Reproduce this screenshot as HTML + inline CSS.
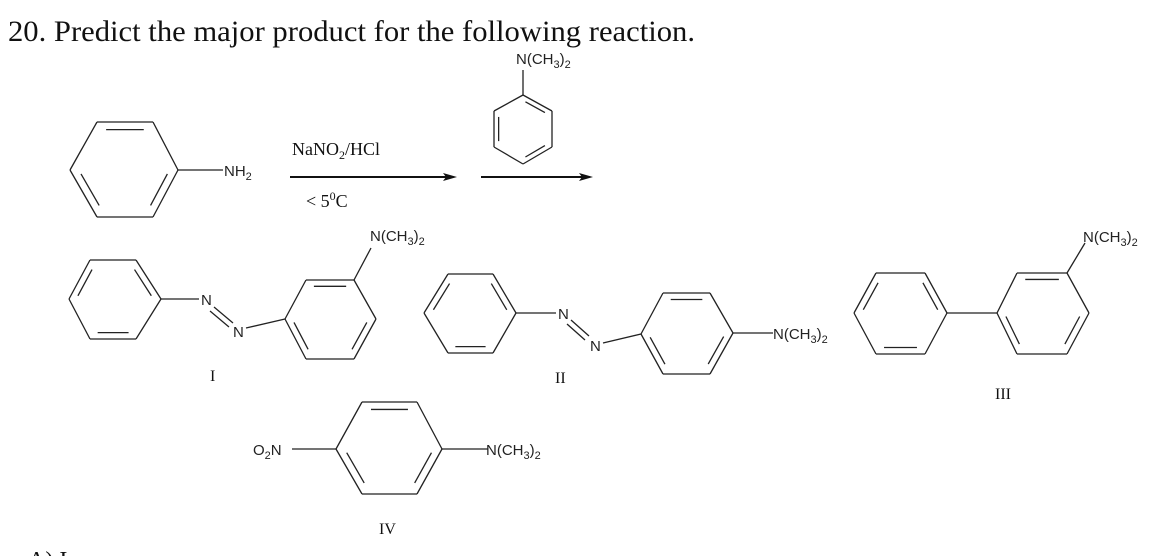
<!DOCTYPE html>
<html><head><meta charset="utf-8">
<style>
html,body{margin:0;padding:0;background:#fff;}
svg{display:block;}
.s{font-family:"Liberation Sans",sans-serif;font-size:15px;fill:#222;}
.r{font-family:"Liberation Serif",serif;fill:#111;}
</style></head><body>
<svg id="g" width="1160" height="556" viewBox="0 0 1160 556" xmlns="http://www.w3.org/2000/svg">
<rect width="1160" height="556" fill="#fff"/>
<text class="r" x="8" y="41" font-size="30" textLength="687" lengthAdjust="spacingAndGlyphs">20.  Predict the major product for the following reaction.</text>

<!-- aniline -->
<line x1="178" y1="170" x2="223" y2="170" stroke="#222" stroke-width="1.3"/>
<text class="s" x="224" y="176">NH<tspan font-size="11" dy="4">2</tspan></text>

<!-- arrows -->
<line x1="290" y1="177" x2="446" y2="177" stroke="#111" stroke-width="2"/>
<polygon points="457,177 443,173 446,177 443,181" fill="#111"/>
<line x1="481" y1="177" x2="582" y2="177" stroke="#111" stroke-width="2"/>
<polygon points="593,177 579,173 582,177 579,181" fill="#111"/>
<text class="r" x="292" y="155" font-size="18">NaNO<tspan font-size="12" dy="4">2</tspan><tspan dy="-4">/HCl</tspan></text>
<text class="r" x="306" y="207" font-size="18">&lt; 5<tspan font-size="12" dy="-7">0</tspan><tspan dy="7">C</tspan></text>

<!-- dimethylaniline reagent -->
<line x1="523" y1="70" x2="523" y2="95" stroke="#222" stroke-width="1.3"/>
<text class="s" x="516" y="64">N(CH<tspan font-size="11" dy="4">3</tspan><tspan dy="-4">)</tspan><tspan font-size="11" dy="4">2</tspan></text>

<!-- I -->
<line x1="161" y1="299" x2="199" y2="299" stroke="#222" stroke-width="1.3"/>
<text class="s" x="201" y="305">N</text>
<line x1="214" y1="307" x2="233" y2="323" stroke="#222" stroke-width="1.3"/>
<line x1="210" y1="311" x2="229" y2="327" stroke="#222" stroke-width="1.3"/>
<text class="s" x="233" y="337">N</text>
<line x1="246" y1="328" x2="285" y2="319" stroke="#222" stroke-width="1.3"/>
<line x1="354" y1="280" x2="371" y2="248" stroke="#222" stroke-width="1.3"/>
<text class="s" x="370" y="241">N(CH<tspan font-size="11" dy="4">3</tspan><tspan dy="-4">)</tspan><tspan font-size="11" dy="4">2</tspan></text>
<text class="r" x="210" y="381" font-size="16">I</text>

<!-- II -->
<line x1="516" y1="313" x2="556" y2="313" stroke="#222" stroke-width="1.3"/>
<text class="s" x="558" y="319">N</text>
<line x1="571" y1="320" x2="589" y2="336" stroke="#222" stroke-width="1.3"/>
<line x1="567" y1="324" x2="585" y2="340" stroke="#222" stroke-width="1.3"/>
<text class="s" x="590" y="351">N</text>
<line x1="603" y1="343" x2="641" y2="334" stroke="#222" stroke-width="1.3"/>
<line x1="733" y1="333" x2="773" y2="333" stroke="#222" stroke-width="1.3"/>
<text class="s" x="773" y="339">N(CH<tspan font-size="11" dy="4">3</tspan><tspan dy="-4">)</tspan><tspan font-size="11" dy="4">2</tspan></text>
<text class="r" x="555" y="383" font-size="16">II</text>

<!-- III -->
<line x1="947" y1="313" x2="997" y2="313" stroke="#222" stroke-width="1.3"/>
<line x1="1067" y1="273" x2="1085" y2="243" stroke="#222" stroke-width="1.3"/>
<text class="s" x="1083" y="242">N(CH<tspan font-size="11" dy="4">3</tspan><tspan dy="-4">)</tspan><tspan font-size="11" dy="4">2</tspan></text>
<text class="r" x="995" y="399" font-size="16">III</text>

<!-- IV -->
<line x1="292" y1="449" x2="336" y2="449" stroke="#222" stroke-width="1.3"/>
<text class="s" x="253" y="455">O<tspan font-size="11" dy="4">2</tspan><tspan dy="-4">N</tspan></text>
<line x1="442" y1="449" x2="488" y2="449" stroke="#222" stroke-width="1.3"/>
<text class="s" x="486" y="455">N(CH<tspan font-size="11" dy="4">3</tspan><tspan dy="-4">)</tspan><tspan font-size="11" dy="4">2</tspan></text>
<text class="r" x="379" y="534" font-size="16">IV</text>

<text class="r" x="28" y="568" font-size="24">A)  I</text>
</svg>
<script>
var svg=document.getElementById('g');
function ln(a,b){var l=document.createElementNS('http://www.w3.org/2000/svg','line');
l.setAttribute('x1',a[0]);l.setAttribute('y1',a[1]);l.setAttribute('x2',b[0]);l.setAttribute('y2',b[1]);
l.setAttribute('stroke','#222');l.setAttribute('stroke-width','1.3');svg.appendChild(l);}
function ring(v,d){var cx=0,cy=0;v.forEach(function(p){cx+=p[0];cy+=p[1];});cx/=6;cy/=6;
for(var i=0;i<6;i++){var a=v[i],b=v[(i+1)%6];ln(a,b);
if(d.indexOf(i)>=0){var k=0.16;
var a2=[a[0]+(cx-a[0])*k,a[1]+(cy-a[1])*k],b2=[b[0]+(cx-b[0])*k,b[1]+(cy-b[1])*k];
var s=0.1;var a3=[a2[0]+(b2[0]-a2[0])*s,a2[1]+(b2[1]-a2[1])*s],b3=[b2[0]+(a2[0]-b2[0])*s,b2[1]+(a2[1]-b2[1])*s];
ln(a3,b3);}}}
ring([[97,122],[153,122],[178,170],[153,217],[97,217],[70,170]],[0,2,4]);
ring([[523,95],[552,111],[552,147],[523,164],[494,147],[494,111]],[0,2,4]);
ring([[90,260],[136,260],[161,299],[136,339],[90,339],[69,299]],[1,3,5]);
ring([[306,280],[354,280],[376,319],[354,359],[306,359],[285,319]],[0,2,4]);
ring([[448,274],[493,274],[516,313],[493,353],[448,353],[424,313]],[1,3,5]);
ring([[663,293],[710,293],[733,333],[710,374],[663,374],[641,334]],[0,2,4]);
ring([[876,273],[925,273],[947,313],[925,354],[876,354],[854,313]],[1,3,5]);
ring([[1017,273],[1067,273],[1089,313],[1067,354],[1017,354],[997,313]],[0,2,4]);
ring([[362,402],[417,402],[442,449],[417,494],[362,494],[336,449]],[0,2,4]);
</script>
</body></html>
